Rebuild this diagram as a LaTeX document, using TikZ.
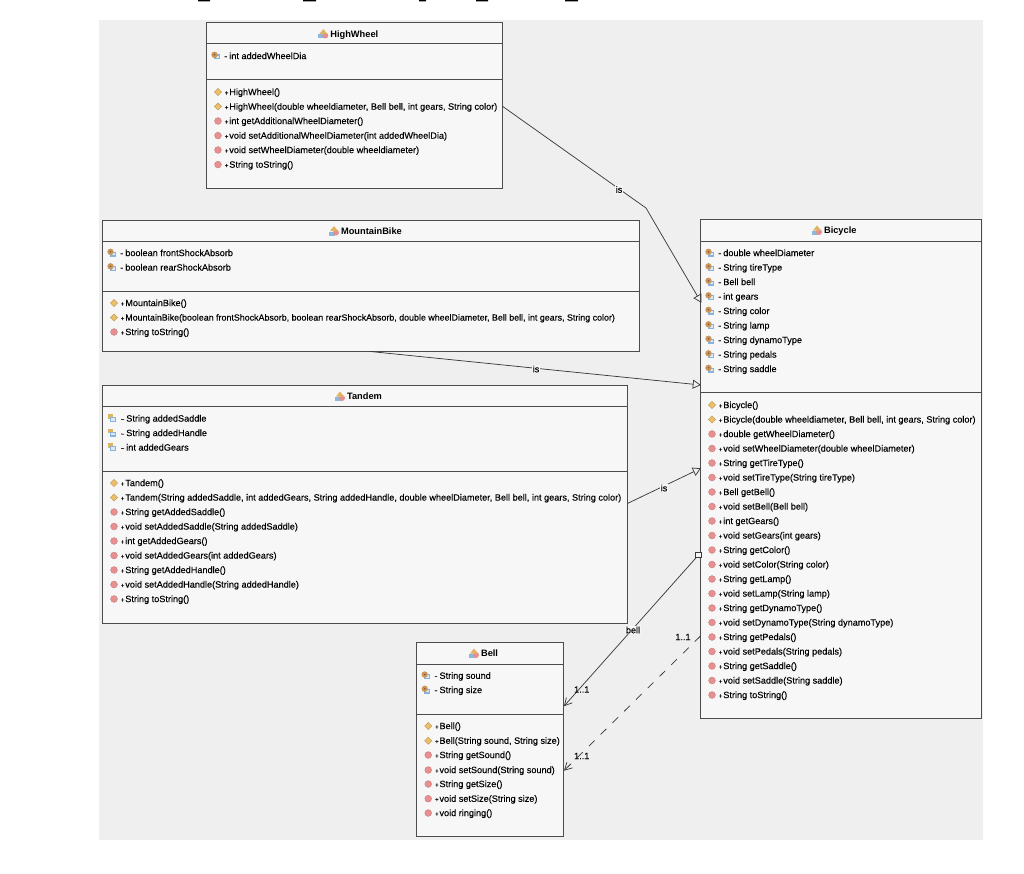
\documentclass[tikz,border=0pt]{standalone}
\usepackage{fontspec}
\setmainfont{Liberation Sans}
\newfontfamily\rowfont[FakeBold=0.12]{Liberation Sans}
\usetikzlibrary{arrows.meta,calc}
\definecolor{canvas}{HTML}{EFEFEF}
\definecolor{boxfill}{HTML}{F7F7F7}
\definecolor{boxline}{HTML}{4C4C4C}
\definecolor{linkline}{HTML}{3A3A3A}
\definecolor{labelfill}{HTML}{F7F7F7}
\definecolor{fieldorange}{HTML}{C9975E}
\definecolor{fieldblue}{HTML}{86B4DE}
\definecolor{pkgyellow}{HTML}{E0B45C}
\definecolor{methodpink}{HTML}{E88F8F}
\definecolor{methodedge}{HTML}{C77B7B}
\definecolor{ctororange}{HTML}{EBBE6A}
\definecolor{classorange}{HTML}{E3B260}
\definecolor{classpink}{HTML}{E58F8F}
\definecolor{classblue}{HTML}{8DB7DD}
\newcount\rowno
\tikzset{
  x=0.75pt,y=-0.75pt,
  umlbox/.style={draw=boxline,fill=boxfill,line width=0.75pt,inner sep=0pt,outer sep=0pt,anchor=north west},
  sepline/.style={draw=boxline,line width=0.75pt},
  rowtext/.style={anchor=base west,inner sep=0pt,font=\rowfont\fontsize{6.85pt}{7pt}\selectfont,text=black},
  headtext/.style={anchor=base west,inner sep=0pt,font=\fontsize{6.95pt}{7pt}\selectfont\bfseries,text=black},
  link/.style={draw=linkline,line width=0.55pt},
  gen/.style={link,-{Triangle[open,length=6pt,width=6.8pt,line width=0.55pt]}},
  nav/.style={link,-{Straight Barb[length=5.5pt,width=6pt,line width=0.55pt]}},
  isflag/.style={fill=labelfill,inner xsep=0.5pt,inner ysep=0.6pt,font=\rowfont\fontsize{6.85pt}{7pt}\selectfont,text=black},
  mult/.style={inner sep=0pt,font=\rowfont\fontsize{6.85pt}{7pt}\selectfont,text=black},
  port/.style={draw=linkline,fill=boxfill,line width=0.55pt,minimum size=4pt,inner sep=0pt},
}
% x = left edge of the class box, y = row centre
\newcommand{\fieldicon}[3]{%
  \fill[#3] (#1+5,#2-4.5) rectangle (#1+10.5,#2);
  \fill[fieldblue] (#1+7.5,#2-1.5) rectangle (#1+13.5,#2+3.5);
  \fill[white!70!fieldblue] (#1+8.7,#2-0.3) rectangle (#1+12.3,#2+2.3);}
\newcommand{\roundfield}[2]{%
  \fill[fieldblue] (#1+7.5,#2-1.5) rectangle (#1+13.5,#2+3.5);
  \fill[white!70!fieldblue] (#1+9,#2-0.3) rectangle (#1+12.3,#2+2.3);
  \fill[fieldorange] (#1+8,#2-1.2) circle (3.2);
  \fill[brown!70!black] (#1+8,#2-1.2) circle (0.9);}
\newcommand{\rowlabel}[3]{\global\advance\rowno by 1
  \node[rowtext] (row\the\rowno) at (#1,#2+3.1) {#3};}
\newcommand{\fld}[3]{\roundfield{#1}{#2}\rowlabel{#1+17.5}{#2}{-\hspace{1.5pt}#3}}
\newcommand{\pkg}[3]{\fieldicon{#1}{#2}{pkgyellow}\rowlabel{#1+18}{#2}{{\fontsize{4.5pt}{5pt}\selectfont\textasciitilde}\hspace{1.5pt}#3}}
\newcommand{\mth}[3]{\fill[methodpink,draw=methodedge,line width=0.3pt] (#1+11.5,#2) circle (3.4);\rowlabel{#1+18}{#2}{{\fontsize{4.8pt}{5pt}\selectfont +}\hspace{0.6pt}#3}}
\newcommand{\ctr}[3]{\fill[ctororange,draw=ctororange!80!black,line width=0.3pt] (#1+11.5,#2-3.6) -- (#1+15.1,#2) -- (#1+11.5,#2+3.6) -- (#1+7.9,#2) -- cycle;\rowlabel{#1+18}{#2}{{\fontsize{4.8pt}{5pt}\selectfont +}\hspace{0.6pt}#3}}
\newcommand{\headline}[3]{%
  \fill[classblue] (#1,#2+0.5) rectangle (#1+6,#2+4.5);
  \fill[classpink] (#1+7,#2+1.5) circle (3);
  \fill[classorange] (#1+1,#2) -- (#1+5,#2-5) -- (#1+9,#2) -- cycle;
  \global\advance\rowno by 1
  \node[headtext] (head\the\rowno) at (#1+11.8,#2+3.3) {#3};}
\begin{document}
\begin{tikzpicture}
\useasboundingbox (0,0) rectangle (1024,874);
\fill[white] (0,0) rectangle (1024,874);
% clipped remains of a heading at the top edge
\fill[black] (198,0) rectangle (210,1.3) (303,0) rectangle (316,1.3) (419,0) rectangle (426,1.3) (476,0) rectangle (488,1.3) (565,0) rectangle (578,1.3);
\fill[canvas] (99,20) rectangle (983,840);

% ---------- HighWheel
\node[umlbox,minimum width=222pt,minimum height=123.75pt] (highwheel) at (206.5,23) {};
\draw[sepline] (highwheel.west |- 0,44) -- (highwheel.east |- 0,44);
\draw[sepline] (highwheel.west |- 0,80) -- (highwheel.east |- 0,80);
\headline{318.3}{34}{HighWheel}
\fld{206.5}{56}{int addedWheelDia}
\ctr{206.5}{92}{HighWheel()}
\ctr{206.5}{106.6}{HighWheel(double wheeldiameter, Bell bell, int gears, String color)}
\mth{206.5}{121}{int getAdditionalWheelDiameter()}
\mth{206.5}{135.6}{void setAdditionalWheelDiameter(int addedWheelDia)}
\mth{206.5}{150}{void setWheelDiameter(double wheeldiameter)}
\mth{206.5}{164.6}{String toString()}

% ---------- MountainBike
\node[umlbox,minimum width=403pt,minimum height=98.6pt] (mountain) at (102.5,220) {};
\draw[sepline] (mountain.west |- 0,241) -- (mountain.east |- 0,241);
\draw[sepline] (mountain.west |- 0,291.3) -- (mountain.east |- 0,291.3);
\headline{329}{231}{MountainBike}
\fld{102.5}{253}{boolean frontShockAbsorb}
\fld{102.5}{267.5}{boolean rearShockAbsorb}
\ctr{102.5}{303}{MountainBike()}
\ctr{102.5}{317.5}{\fontsize{6.66pt}{7pt}\selectfont MountainBike(boolean frontShockAbsorb, boolean rearShockAbsorb, double wheelDiameter, Bell bell, int gears, String color)}
\mth{102.5}{332}{String toString()}

% ---------- Tandem
\node[umlbox,minimum width=394pt,minimum height=178.5pt] (tandem) at (102.5,385.3) {};
\draw[sepline] (tandem.west |- 0,406.7) -- (tandem.east |- 0,406.7);
\draw[sepline] (tandem.west |- 0,471) -- (tandem.east |- 0,471);
\headline{335}{396.5}{Tandem}
\pkg{102.5}{418.5}{String addedSaddle}
\pkg{102.5}{433}{String addedHandle}
\pkg{102.5}{447.5}{int addedGears}
\ctr{102.5}{483}{Tandem()}
\ctr{102.5}{497.5}{Tandem(String addedSaddle, int addedGears, String addedHandle, double wheelDiameter, Bell bell, int gears, String color)}
\mth{102.5}{512}{String getAddedSaddle()}
\mth{102.5}{526.5}{void setAddedSaddle(String addedSaddle)}
\mth{102.5}{541}{int getAddedGears()}
\mth{102.5}{555.5}{void setAddedGears(int addedGears)}
\mth{102.5}{570}{String getAddedHandle()}
\mth{102.5}{584.5}{void setAddedHandle(String addedHandle)}
\mth{102.5}{599}{String toString()}

% ---------- Bicycle
\node[umlbox,minimum width=210.4pt,minimum height=374.2pt] (bicycle) at (700.5,219.5) {};
\draw[sepline] (bicycle.west |- 0,241) -- (bicycle.east |- 0,241);
\draw[sepline] (bicycle.west |- 0,392.7) -- (bicycle.east |- 0,392.7);
\headline{812}{230.5}{Bicycle}
\fld{700.5}{253}{double wheelDiameter}
\fld{700.5}{267.5}{String tireType}
\fld{700.5}{282}{Bell bell}
\fld{700.5}{296.5}{int gears}
\fld{700.5}{311}{String color}
\fld{700.5}{325.5}{String lamp}
\fld{700.5}{340}{String dynamoType}
\fld{700.5}{354.5}{String pedals}
\fld{700.5}{369}{String saddle}
\ctr{700.5}{405}{Bicycle()}
\ctr{700.5}{419.5}{Bicycle(double wheeldiameter, Bell bell, int gears, String color)}
\mth{700.5}{434}{double getWheelDiameter()}
\mth{700.5}{448.5}{void setWheelDiameter(double wheelDiameter)}
\mth{700.5}{463}{String getTireType()}
\mth{700.5}{477.5}{void setTireType(String tireType)}
\mth{700.5}{492}{Bell getBell()}
\mth{700.5}{506.5}{void setBell(Bell bell)}
\mth{700.5}{521}{int getGears()}
\mth{700.5}{535.5}{void setGears(int gears)}
\mth{700.5}{550}{String getColor()}
\mth{700.5}{564.5}{void setColor(String color)}
\mth{700.5}{579}{String getLamp()}
\mth{700.5}{593.5}{void setLamp(String lamp)}
\mth{700.5}{608}{String getDynamoType()}
\mth{700.5}{622.5}{void setDynamoType(String dynamoType)}
\mth{700.5}{637}{String getPedals()}
\mth{700.5}{651.5}{void setPedals(String pedals)}
\mth{700.5}{666}{String getSaddle()}
\mth{700.5}{680.5}{void setSaddle(String saddle)}
\mth{700.5}{695}{String toString()}

% ---------- Bell
\node[umlbox,minimum width=110.3pt,minimum height=145.8pt] (bell) at (416.7,642.3) {};
\draw[sepline] (bell.west |- 0,664) -- (bell.east |- 0,664);
\draw[sepline] (bell.west |- 0,714) -- (bell.east |- 0,714);
\headline{469}{653.5}{Bell}
\fld{416.7}{675.7}{String sound}
\fld{416.7}{690}{String size}
\ctr{416.7}{726}{Bell()}
\ctr{416.7}{740.7}{Bell(String sound, String size)}
\mth{416.7}{755}{String getSound()}
\mth{416.7}{770}{void setSound(String sound)}
\mth{416.7}{784}{String getSize()}
\mth{416.7}{798.7}{void setSize(String size)}
\mth{416.7}{813}{void ringing()}

% ---------- connector ends on the class boxes
\coordinate (hwOut) at ($(highwheel.north east)+(0,83.3)$);
\coordinate (hwBend) at (646,208);
\coordinate (bikeA) at ($(bicycle.north west)+(0.8,83.2)$);
\coordinate (mbOut) at (mountain.south -| 370,0);
\coordinate (bikeB) at ($(bicycle.north west)+(0.3,165.5)$);
\coordinate (taOut) at ($(tandem.north east)+(0,118)$);
\coordinate (bikeC) at ($(bicycle.north west)+(0.3,248.8)$);
\coordinate (bellA) at ($(bell.north east)+(0.2,63.9)$);
\coordinate (bikeD) at ($(bicycle.north west)+(0,416.5)$);
\coordinate (bellB) at ($(bell.north east)+(0.2,128.4)$);
\node[port] (assocEnd) at ($(bicycle.north west)+(-2,335.5)$) {};

% ---------- connectors
\draw[gen] (hwOut) -- (hwBend) -- (bikeA);
\draw[gen] (mbOut) -- (bikeB);
\draw[gen] (taOut) -- (bikeC);
\draw[nav] (assocEnd) -- (bellA);
\draw[nav,dash pattern=on 6pt off 6.4pt] (bikeD) -- (bellB);

% ---------- connector labels
\node[isflag] (isA) at (619,189.5) {is};
\node[isflag] (isB) at (536,369) {is};
\node[isflag] (isC) at (664,488) {is};
\node[isflag] (bellRole) at (633,630) {bell};
\node[mult] (multA) at (683,637) {1..1};
\node[mult] (multB) at (581.7,689.5) {1..1};
\node[mult] (multC) at (581.7,756) {1..1};
\end{tikzpicture}
\end{document}
